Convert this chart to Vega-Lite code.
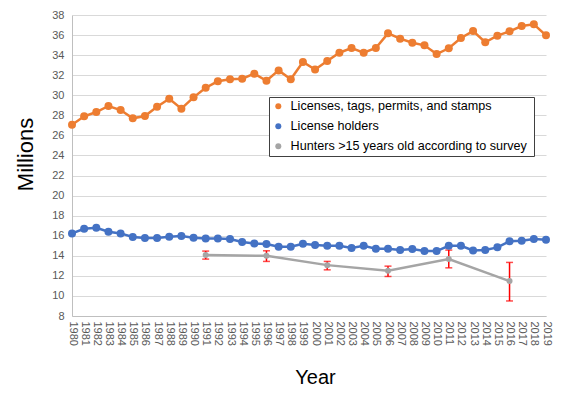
{
  "$schema": "https://vega.github.io/schema/vega-lite/v6.json",
  "width": 474,
  "height": 301,
  "autosize": {"type": "none"},
  "padding": {"left": 72, "top": 15, "right": 28, "bottom": 89},
  "background": "white",
  "data": {
    "values": [
      {"Year": 1980, "series": "Licenses, tags, permits, and stamps", "value": 27.06},
      {"Year": 1981, "series": "Licenses, tags, permits, and stamps", "value": 27.9},
      {"Year": 1982, "series": "Licenses, tags, permits, and stamps", "value": 28.33},
      {"Year": 1983, "series": "Licenses, tags, permits, and stamps", "value": 28.93},
      {"Year": 1984, "series": "Licenses, tags, permits, and stamps", "value": 28.53},
      {"Year": 1985, "series": "Licenses, tags, permits, and stamps", "value": 27.7},
      {"Year": 1986, "series": "Licenses, tags, permits, and stamps", "value": 27.93},
      {"Year": 1987, "series": "Licenses, tags, permits, and stamps", "value": 28.86},
      {"Year": 1988, "series": "Licenses, tags, permits, and stamps", "value": 29.66},
      {"Year": 1989, "series": "Licenses, tags, permits, and stamps", "value": 28.66},
      {"Year": 1990, "series": "Licenses, tags, permits, and stamps", "value": 29.79},
      {"Year": 1991, "series": "Licenses, tags, permits, and stamps", "value": 30.75},
      {"Year": 1992, "series": "Licenses, tags, permits, and stamps", "value": 31.39},
      {"Year": 1993, "series": "Licenses, tags, permits, and stamps", "value": 31.59},
      {"Year": 1994, "series": "Licenses, tags, permits, and stamps", "value": 31.65},
      {"Year": 1995, "series": "Licenses, tags, permits, and stamps", "value": 32.15},
      {"Year": 1996, "series": "Licenses, tags, permits, and stamps", "value": 31.45},
      {"Year": 1997, "series": "Licenses, tags, permits, and stamps", "value": 32.48},
      {"Year": 1998, "series": "Licenses, tags, permits, and stamps", "value": 31.59},
      {"Year": 1999, "series": "Licenses, tags, permits, and stamps", "value": 33.31},
      {"Year": 2000, "series": "Licenses, tags, permits, and stamps", "value": 32.56},
      {"Year": 2001, "series": "Licenses, tags, permits, and stamps", "value": 33.41},
      {"Year": 2002, "series": "Licenses, tags, permits, and stamps", "value": 34.24},
      {"Year": 2003, "series": "Licenses, tags, permits, and stamps", "value": 34.71},
      {"Year": 2004, "series": "Licenses, tags, permits, and stamps", "value": 34.24},
      {"Year": 2005, "series": "Licenses, tags, permits, and stamps", "value": 34.71},
      {"Year": 2006, "series": "Licenses, tags, permits, and stamps", "value": 36.17},
      {"Year": 2007, "series": "Licenses, tags, permits, and stamps", "value": 35.64},
      {"Year": 2008, "series": "Licenses, tags, permits, and stamps", "value": 35.24},
      {"Year": 2009, "series": "Licenses, tags, permits, and stamps", "value": 34.98},
      {"Year": 2010, "series": "Licenses, tags, permits, and stamps", "value": 34.11},
      {"Year": 2011, "series": "Licenses, tags, permits, and stamps", "value": 34.68},
      {"Year": 2012, "series": "Licenses, tags, permits, and stamps", "value": 35.71},
      {"Year": 2013, "series": "Licenses, tags, permits, and stamps", "value": 36.4},
      {"Year": 2014, "series": "Licenses, tags, permits, and stamps", "value": 35.28},
      {"Year": 2015, "series": "Licenses, tags, permits, and stamps", "value": 35.94},
      {"Year": 2016, "series": "Licenses, tags, permits, and stamps", "value": 36.37},
      {"Year": 2017, "series": "Licenses, tags, permits, and stamps", "value": 36.9},
      {"Year": 2018, "series": "Licenses, tags, permits, and stamps", "value": 37.07},
      {"Year": 2019, "series": "Licenses, tags, permits, and stamps", "value": 35.97},
      {"Year": 1980, "series": "License holders", "value": 16.23},
      {"Year": 1981, "series": "License holders", "value": 16.7},
      {"Year": 1982, "series": "License holders", "value": 16.8},
      {"Year": 1983, "series": "License holders", "value": 16.4},
      {"Year": 1984, "series": "License holders", "value": 16.23},
      {"Year": 1985, "series": "License holders", "value": 15.87},
      {"Year": 1986, "series": "License holders", "value": 15.77},
      {"Year": 1987, "series": "License holders", "value": 15.77},
      {"Year": 1988, "series": "License holders", "value": 15.9},
      {"Year": 1989, "series": "License holders", "value": 15.97},
      {"Year": 1990, "series": "License holders", "value": 15.8},
      {"Year": 1991, "series": "License holders", "value": 15.73},
      {"Year": 1992, "series": "License holders", "value": 15.73},
      {"Year": 1993, "series": "License holders", "value": 15.67},
      {"Year": 1994, "series": "License holders", "value": 15.37},
      {"Year": 1995, "series": "License holders", "value": 15.23},
      {"Year": 1996, "series": "License holders", "value": 15.17},
      {"Year": 1997, "series": "License holders", "value": 14.9},
      {"Year": 1998, "series": "License holders", "value": 14.9},
      {"Year": 1999, "series": "License holders", "value": 15.2},
      {"Year": 2000, "series": "License holders", "value": 15.07},
      {"Year": 2001, "series": "License holders", "value": 15.0},
      {"Year": 2002, "series": "License holders", "value": 15.0},
      {"Year": 2003, "series": "License holders", "value": 14.77},
      {"Year": 2004, "series": "License holders", "value": 15.0},
      {"Year": 2005, "series": "License holders", "value": 14.7},
      {"Year": 2006, "series": "License holders", "value": 14.7},
      {"Year": 2007, "series": "License holders", "value": 14.57},
      {"Year": 2008, "series": "License holders", "value": 14.67},
      {"Year": 2009, "series": "License holders", "value": 14.47},
      {"Year": 2010, "series": "License holders", "value": 14.47},
      {"Year": 2011, "series": "License holders", "value": 15.0},
      {"Year": 2012, "series": "License holders", "value": 15.0},
      {"Year": 2013, "series": "License holders", "value": 14.54},
      {"Year": 2014, "series": "License holders", "value": 14.57},
      {"Year": 2015, "series": "License holders", "value": 14.84},
      {"Year": 2016, "series": "License holders", "value": 15.44},
      {"Year": 2017, "series": "License holders", "value": 15.5},
      {"Year": 2018, "series": "License holders", "value": 15.67},
      {"Year": 2019, "series": "License holders", "value": 15.6},
      {"Year": 1991, "series": "Hunters >15  years old according to survey", "value": 14.07, "lo": 13.67, "hi": 14.47},
      {"Year": 1996, "series": "Hunters >15  years old according to survey", "value": 14.0, "lo": 13.44, "hi": 14.5},
      {"Year": 2001, "series": "Hunters >15  years old according to survey", "value": 13.07, "lo": 12.6, "hi": 13.44},
      {"Year": 2006, "series": "Hunters >15  years old according to survey", "value": 12.5, "lo": 11.94, "hi": 12.97},
      {"Year": 2011, "series": "Hunters >15  years old according to survey", "value": 13.67, "lo": 12.8, "hi": 14.57},
      {"Year": 2016, "series": "Hunters >15  years old according to survey", "value": 11.48, "lo": 9.5, "hi": 13.34}
    ]
  },
  "encoding": {
    "x": {
      "field": "Year",
      "type": "ordinal",
      "scale": {"type": "point", "padding": 0},
      "axis": {
        "title": "Year",
        "labelAngle": 90,
        "labelPadding": 5,
        "labelFontSize": 11,
        "ticks": false,
        "titleFontSize": 20,
        "titleFontWeight": "normal",
        "titleX": 243,
        "titleY": 67,
        "titleBaseline": "alphabetic"
      }
    },
    "y": {
      "field": "value",
      "type": "quantitative",
      "scale": {"domain": [8, 38], "nice": false, "zero": false},
      "axis": {
        "title": "Millions",
        "tickCount": 15,
        "ticks": false,
        "labelPadding": 8,
        "labelFontSize": 11,
        "titleFontSize": 22,
        "titleFontWeight": "normal",
        "titleX": -40,
        "titleY": 139,
        "titleBaseline": "alphabetic"
      }
    },
    "color": {
      "field": "series",
      "type": "nominal",
      "sort": null,
      "scale": {
        "domain": ["Licenses, tags, permits, and stamps", "License holders", "Hunters >15  years old according to survey"],
        "range": ["#ED7D31", "#4472C4", "#A5A5A5"]
      },
      "legend": {
        "orient": "none",
        "legendX": 197,
        "legendY": 82,
        "title": null,
        "symbolType": "circle",
        "symbolSize": 36,
        "symbolStrokeWidth": 0,
        "labelFontSize": 12.6,
        "labelFont": "Liberation Sans",
        "labelColor": "#000000",
        "labelLimit": 400,
        "labelOffset": 6,
        "rowPadding": 7,
        "padding": 3,
        "strokeColor": "#404040",
        "fillColor": "white",
        "encode": {
          "symbols": {"update": {"fill": {"scale": "color", "field": "value"}, "opacity": {"value": 1}}}
        }
      }
    }
  },
  "layer": [
    {
      "mark": {"type": "line", "strokeWidth": 2.5}
    },
    {
      "transform": [{"filter": "isValid(datum.lo)"}],
      "mark": {"type": "rule", "color": "#FF0000", "strokeWidth": 1.5},
      "encoding": {
        "y": {"field": "lo", "type": "quantitative"},
        "y2": {"field": "hi"},
        "color": {"value": "#FF0000"}
      }
    },
    {
      "transform": [{"filter": "isValid(datum.lo)"}],
      "mark": {"type": "tick", "color": "#FF0000", "size": 7, "thickness": 1.5},
      "encoding": {"y": {"field": "lo", "type": "quantitative"}, "color": {"value": "#FF0000"}}
    },
    {
      "transform": [{"filter": "isValid(datum.hi)"}],
      "mark": {"type": "tick", "color": "#FF0000", "size": 7, "thickness": 1.5},
      "encoding": {"y": {"field": "hi", "type": "quantitative"}, "color": {"value": "#FF0000"}}
    },
    {
      "transform": [{"filter": "!isValid(datum.lo)"}],
      "mark": {"type": "point", "filled": true, "size": 64, "opacity": 1}
    },
    {
      "transform": [{"filter": "isValid(datum.lo)"}],
      "mark": {"type": "point", "filled": true, "size": 36, "opacity": 1}
    }
  ],
  "config": {
    "font": "Liberation Sans",
    "view": {"stroke": null},
    "axis": {
      "labelColor": "#595959",
      "titleColor": "#000000",
      "domainColor": "#BFBFBF",
      "gridColor": "#D9D9D9",
      "labelFont": "Liberation Sans",
      "titleFont": "Liberation Sans"
    },
    "axisX": {"grid": false},
    "axisY": {"grid": true}
  }
}
